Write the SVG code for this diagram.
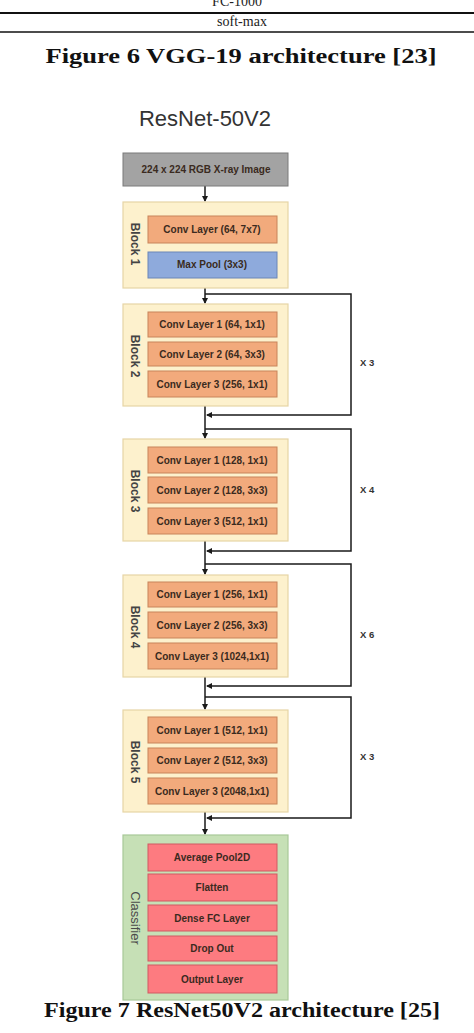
<svg xmlns="http://www.w3.org/2000/svg" width="474" height="1033" viewBox="0 0 474 1033">
<defs>
<marker id="ah" markerWidth="6" markerHeight="6" refX="5" refY="3" orient="auto" markerUnits="userSpaceOnUse">
<path d="M0,0 L6,3 L0,6 Z" fill="#1a1a1a"/>
</marker>
<style>
.cap{font-family:"Liberation Serif",serif;font-weight:bold;font-size:20px;fill:#111}
.tbl{font-family:"Liberation Serif",serif;font-size:14px;fill:#222}
.blk{fill:#fdf1cd;stroke:#e6d5a6;stroke-width:1.2}
.cls{fill:#c6e0b6;stroke:#a8c898;stroke-width:1.2}
.org{fill:#f2aa7c;stroke:#c8845a;stroke-width:1}
.blu{fill:#8eaadc;stroke:#6a86b8;stroke-width:1}
.red{fill:#fd7b80;stroke:#d05a62;stroke-width:1}
.inp{fill:#a3a3a3;stroke:#7a7a7a;stroke-width:1}
.lt{font-family:"Liberation Sans",Arial,sans-serif;font-weight:bold;font-size:10px;fill:#3a2a20;text-anchor:middle}
.vl{font-family:"Liberation Sans",Arial,sans-serif;font-weight:bold;font-size:12px;fill:#444;text-anchor:middle}
.rep{font-family:"Liberation Sans",Arial,sans-serif;font-weight:bold;font-size:9.5px;fill:#333}
.ln{stroke:#1a1a1a;stroke-width:1.5;fill:none}
</style>
</defs>
<rect width="474" height="1033" fill="#ffffff"/>
<g id="vgg-tail">
<text class="tbl" x="237" y="6" text-anchor="middle">FC-1000</text>
<line x1="0" y1="13" x2="474" y2="13" stroke="#111" stroke-width="2"/>
<text class="tbl" x="242" y="26" text-anchor="middle">soft-max</text>
<line x1="0" y1="32" x2="474" y2="32" stroke="#111" stroke-width="1.5"/>
<text class="cap" x="241" y="63" text-anchor="middle" textLength="391" lengthAdjust="spacingAndGlyphs">Figure 6 VGG-19 architecture [23]</text>
</g>
<g id="title">
<text x="205" y="126" text-anchor="middle" font-family="'Liberation Sans',Arial,sans-serif" font-size="22" fill="#333">ResNet-50V2</text>
</g>
<g id="connectors">
<line class="ln" x1="205" y1="186" x2="205" y2="201" marker-end="url(#ah)"/>
<line class="ln" x1="205" y1="288" x2="205" y2="303" marker-end="url(#ah)"/>
<line class="ln" x1="205" y1="406" x2="205" y2="438" marker-end="url(#ah)"/>
<line class="ln" x1="205" y1="541" x2="205" y2="574" marker-end="url(#ah)"/>
<line class="ln" x1="205" y1="677" x2="205" y2="709" marker-end="url(#ah)"/>
<line class="ln" x1="205" y1="812" x2="205" y2="834" marker-end="url(#ah)"/>
<polyline class="ln" points="205,294 351,294 351,415 207,415" marker-end="url(#ah)"/>
<polyline class="ln" points="205,429 351,429 351,551 207,551" marker-end="url(#ah)"/>
<polyline class="ln" points="205,564 351,564 351,686 207,686" marker-end="url(#ah)"/>
<polyline class="ln" points="205,697 351,697 351,818 207,818" marker-end="url(#ah)"/>
<text class="rep" x="360" y="366">X 3</text>
<text class="rep" x="360" y="493">X 4</text>
<text class="rep" x="360" y="638">X 6</text>
<text class="rep" x="360" y="760">X 3</text>
</g>
<g id="input">
<rect class="inp" x="123" y="153" width="165" height="33"/>
<text class="lt" x="206" y="173" fill="#222">224 x 224 RGB X-ray Image</text>
</g>
<g id="block1">
<rect class="blk" x="123" y="202" width="165" height="86"/>
<text class="vl" transform="translate(131,244) rotate(90)">Block 1</text>
<rect class="org" x="148" y="216" width="129" height="27"/>
<text class="lt" x="212" y="233">Conv Layer (64, 7x7)</text>
<rect class="blu" x="148" y="252" width="129" height="26"/>
<text class="lt" x="212" y="268">Max Pool (3x3)</text>
</g>
<g id="block2">
<rect class="blk" x="123" y="304" width="165" height="102"/>
<text class="vl" transform="translate(131,356) rotate(90)">Block 2</text>
<rect class="org" x="148" y="312" width="129" height="25"/>
<text class="lt" x="212" y="328">Conv Layer 1 (64, 1x1)</text>
<rect class="org" x="148" y="342" width="129" height="24"/>
<text class="lt" x="212" y="358">Conv Layer 2 (64, 3x3)</text>
<rect class="org" x="148" y="371" width="129" height="26"/>
<text class="lt" x="212" y="388">Conv Layer 3 (256, 1x1)</text>
</g>
<g id="block3">
<rect class="blk" x="123" y="439" width="165" height="102"/>
<text class="vl" transform="translate(131,491) rotate(90)">Block 3</text>
<rect class="org" x="148" y="447" width="129" height="26"/>
<text class="lt" x="212" y="464">Conv Layer 1 (128, 1x1)</text>
<rect class="org" x="148" y="477" width="129" height="26"/>
<text class="lt" x="212" y="494">Conv Layer 2 (128, 3x3)</text>
<rect class="org" x="148" y="508" width="129" height="26"/>
<text class="lt" x="212" y="525">Conv Layer 3 (512, 1x1)</text>
</g>
<g id="block4">
<rect class="blk" x="123" y="575" width="165" height="102"/>
<text class="vl" transform="translate(131,627) rotate(90)">Block 4</text>
<rect class="org" x="148" y="582" width="129" height="25"/>
<text class="lt" x="212" y="598">Conv Layer 1 (256, 1x1)</text>
<rect class="org" x="148" y="612" width="129" height="26"/>
<text class="lt" x="212" y="629">Conv Layer 2 (256, 3x3)</text>
<rect class="org" x="148" y="643" width="129" height="26"/>
<text class="lt" x="212" y="660">Conv Layer 3 (1024,1x1)</text>
</g>
<g id="block5">
<rect class="blk" x="123" y="710" width="165" height="102"/>
<text class="vl" transform="translate(131,762) rotate(90)">Block 5</text>
<rect class="org" x="148" y="717" width="129" height="26"/>
<text class="lt" x="212" y="734">Conv Layer 1 (512, 1x1)</text>
<rect class="org" x="148" y="748" width="129" height="25"/>
<text class="lt" x="212" y="764">Conv Layer 2 (512, 3x3)</text>
<rect class="org" x="148" y="778" width="129" height="26"/>
<text class="lt" x="212" y="795">Conv Layer 3 (2048,1x1)</text>
</g>
<g id="classifier">
<rect class="cls" x="123" y="835" width="165" height="165"/>
<text class="vl" style="font-weight:normal;font-size:13px;fill:#4a4a4a" transform="translate(131,918) rotate(90)">Classifier</text>
<rect class="red" x="148" y="844" width="129" height="27"/>
<text class="lt" x="212" y="861">Average Pool2D</text>
<rect class="red" x="148" y="874" width="129" height="27"/>
<text class="lt" x="212" y="891">Flatten</text>
<rect class="red" x="148" y="905" width="129" height="26"/>
<text class="lt" x="212" y="922">Dense FC Layer</text>
<rect class="red" x="148" y="936" width="129" height="25"/>
<text class="lt" x="212" y="952">Drop Out</text>
<rect class="red" x="148" y="965" width="129" height="28"/>
<text class="lt" x="212" y="983">Output Layer</text>
</g>
<g id="caption7">
<text class="cap" x="242" y="1017" text-anchor="middle" textLength="396" lengthAdjust="spacingAndGlyphs">Figure 7 ResNet50V2 architecture [25]</text>
</g>
</svg>
